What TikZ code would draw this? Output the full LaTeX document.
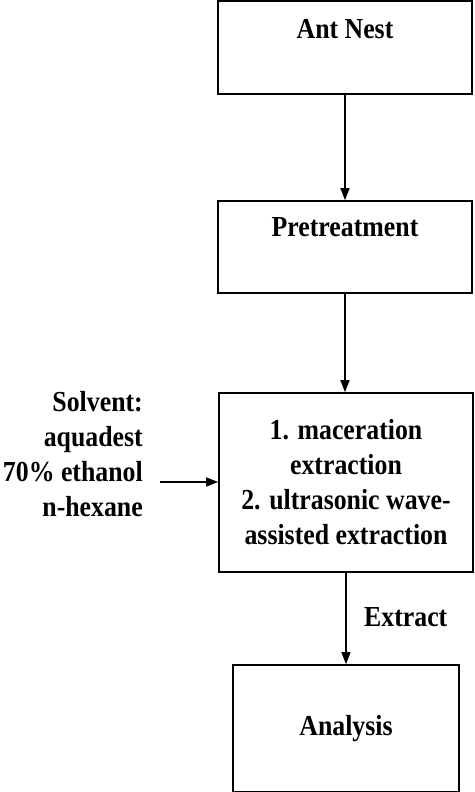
\documentclass[tikz,border=0pt]{standalone}
\usepackage{fontspec}
\setmainfont{Liberation Serif}[FakeStretch=0.89]
\usetikzlibrary{arrows.meta}
\tikzset{
  boxnode/.style={draw, line width=1.6pt, minimum width=254pt, inner sep=0pt},
  lbl/.style={font=\fontsize{29}{35}\selectfont\bfseries, align=center, inner sep=0pt},
  flow/.style={-{Triangle[length=12pt,width=9pt]}, line width=1.3pt},
}
\begin{document}
\begin{tikzpicture}[x=1pt,y=-1pt]
\useasboundingbox (0,0) rectangle (474,792);
\node[boxnode, minimum height=93pt] (ant) at (345,47.5) {};
\node[lbl] (antt) at (345,29) {Ant Nest};
\node[boxnode, minimum height=92pt] (pre) at (345,247) {};
\node[lbl] (pret) at (345,227) {Pretreatment};
\node[boxnode, lbl, minimum width=254pt, minimum height=179pt] (ext) at (346,482.5)
  {1. maceration\\extraction\\2. ultrasonic wave-\\assisted extraction};
\node[lbl, align=right, anchor=east] (solv) at (143,454)
  {Solvent:\\aquadest\\70\% ethanol\\n-hexane};
\coordinate (sin) at (160,482);
\node[boxnode, lbl, minimum width=226pt, minimum height=127pt] (ana) at (346,728.5) {Analysis};
\node[lbl, anchor=west] (extl) at (364,617) {Extract};
\draw[flow] (ant.south) -- (pre.north);
\draw[flow] (pre.south) -- (pre.south |- ext.north);
\draw[flow] (sin) -- (sin -| ext.west);
\draw[flow] (ext.south) -- (ana.north);
\end{tikzpicture}
\end{document}
